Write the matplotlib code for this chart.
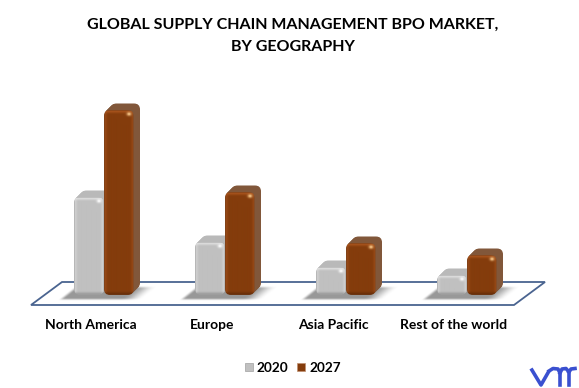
import numpy as np
import matplotlib
matplotlib.use('Agg')
import matplotlib.pyplot as plt
from matplotlib.patches import FancyBboxPatch, Patch, Polygon
from matplotlib.transforms import ScaledTranslation

W, H = 579, 388
categories = ['North America', 'Europe', 'Asia Pacific', 'Rest of the world']
years = ['2020', '2027']
values_2020 = [98, 53, 28, 20]
values_2027 = [185, 103, 52, 40]

plt.rcParams['font.family'] = ['Lato', 'DejaVu Sans']
fig = plt.figure(figsize=(W/100, H/100), dpi=100)

# background layer in pixel coords, for the floor, the shadows and the logo
bg = fig.add_axes([0, 0, 1, 1], zorder=0)
bg.axis('off')
bg.add_patch(Polygon([(31, 305), (62, 282), (545, 282), (514, 305)], closed=True,
                     facecolor='white', edgecolor='#4a6490', lw=1.3))

# value axes: 1 value unit is one pixel, one category is 121 pixels
PX = 121.0
ax = fig.add_axes([43.5/W, (H-295)/H, 484/W, 200/H], zorder=1)
ax.patch.set_alpha(0)


def smooth(a):
    a = np.clip(a, 0, 1)
    return a*a*(3 - 2*a)


def draw_shadow(cx):
    '''blurred sheared shadow on the floor behind one pair of bars'''
    y, x = np.mgrid[284:302:0.5, cx - 50:cx + 60:0.5]
    u = x + (y - 288)*14/11.0
    a = smooth((u - (cx - 32))/6)*smooth(((cx + 52) - u)/22)
    a = a*smooth((y - 285.5)/3)*smooth((300.5 - y)/3)
    rgba = np.ones(a.shape + (4,))*0.55
    rgba[..., 3] = a*0.9
    bg.imshow(rgba, extent=(cx - 50, cx + 60, 302, 284), aspect='auto', zorder=2,
              interpolation='bilinear')


def bar_image(h, w, base, top, bottom, side, edge, spot):
    '''bevelled face of one bar, 3 samples per pixel'''
    ny, nx = max(int(h*3), 6), int(w*3)
    y, x = np.mgrid[0:ny, 0:nx]
    y = (y + 0.5)/3
    x = (x + 0.5)/3
    img = np.ones((ny, nx, 3))*np.array(base, float)
    bev = 4.5
    dx = np.minimum(x, w - x)
    s = smooth(1 - dx/bev)[..., None]
    img = img*(1 - s) + np.array(side, float)*s
    t = smooth(1 - y/bev)[..., None]
    img = img*(1 - t) + np.array(top, float)*t
    b = smooth(1 - (h - y)/bev)[..., None]
    img = img*(1 - b) + np.array(bottom, float)*b
    e = np.clip(1 - np.minimum(dx, np.minimum(y, h - y))/1.2, 0, 1)[..., None]
    img = img*(1 - e) + np.array(edge, float)*e
    g = np.exp(-(((x - (w - 5))/2.2)**2 + ((y - 4)/1.8)**2))[..., None]
    img = img*(1 - g) + np.array(spot, float)*g
    return np.clip(img/255, 0, 1)


def draw_bar(x0, value, style):
    w = 29.5/PX
    r = 6/PX
    for k in np.arange(6.5, 0, -0.5):
        ax.add_patch(FancyBboxPatch((x0 + k/PX, k), w, value,
                                    boxstyle='round,pad=0,rounding_size=%f' % r,
                                    mutation_aspect=PX, lw=0,
                                    facecolor=style['depth'], zorder=2))
    box = FancyBboxPatch((x0, 0), w, value,
                         boxstyle='round,pad=0,rounding_size=%f' % r,
                         mutation_aspect=PX, lw=0, facecolor='none', zorder=3)
    ax.add_patch(box)
    im = ax.imshow(bar_image(value, w*PX, style['base'], style['top'], style['bottom'],
                             style['side'], style['edge'], style['spot']),
                   extent=(x0, x0 + w, 0, value), aspect='auto', zorder=3,
                   origin='upper', interpolation='bilinear')
    im.set_clip_path(box)


gray = dict(depth='#b9b9b9', base=(192, 192, 192), top=(232, 232, 232),
            bottom=(150, 150, 150), side=(214, 214, 214), edge=(160, 160, 160),
            spot=(255, 255, 255))
brown = dict(depth='#81573a', base=(132, 60, 12), top=(178, 90, 32),
             bottom=(100, 44, 8), side=(156, 76, 24), edge=(112, 60, 26),
             spot=(255, 205, 140))

for i in range(len(categories)):
    draw_shadow(43.5 + (i + 0.5)*PX)
    draw_bar(i - 30/PX, values_2020[i], gray)
    draw_bar(i, values_2027[i], brown)

bg.set_xlim(0, W)
bg.set_ylim(H, 0)
ax.set_xlim(-0.5, 3.5)
ax.set_ylim(0, 200)
for s in ax.spines.values():
    s.set_visible(False)
ax.set_yticks([])
ax.set_xticks(range(len(categories)))
ax.set_xticklabels(categories, fontsize=10, fontweight='bold', color='black')
ax.tick_params(axis='x', length=0, pad=17)
shift = ScaledTranslation(-13/100, 0, fig.dpi_scale_trans)
for lab in ax.get_xticklabels():
    lab.set_transform(lab.get_transform() + shift)

fig.text(292.5/W, 1 - 25/H, 'GLOBAL SUPPLY CHAIN MANAGEMENT BPO MARKET,', ha='center', va='center',
         fontsize=11.5, fontweight='bold', color='black')
fig.text(292.5/W, 1 - 47/H, 'BY GEOGRAPHY', ha='center', va='center',
         fontsize=11.5, fontweight='bold', color='black')

handles = [Patch(facecolor='#c0c0c0', edgecolor='#a0a0a0', lw=0.5),
           Patch(facecolor='#843c0c', edgecolor='#c09070', lw=0.5)]
fig.legend(handles, years, loc='center', bbox_to_anchor=(293/W, 1 - 368/H), ncol=2, frameon=False,
           prop={'weight': 'bold', 'size': 9.8}, handlelength=0.55, handleheight=0.55,
           handletextpad=0.3, columnspacing=0.65)

# logo
logo = '#3a50d0'
bg.plot([531, 541, 549], [368.5, 385, 371], color=logo, lw=2.6, solid_capstyle='butt')
bg.plot([549, 553, 558, 560, 560], [371, 368.5, 369, 373, 385], color=logo, lw=2.6)
bg.plot([560, 562, 566, 569, 569], [373, 369, 368.5, 372, 385], color=logo, lw=2.6)
bg.plot([569, 571, 575], [372, 369, 368.5], color=logo, lw=2.6)

fig.savefig('out.png', dpi=100)
